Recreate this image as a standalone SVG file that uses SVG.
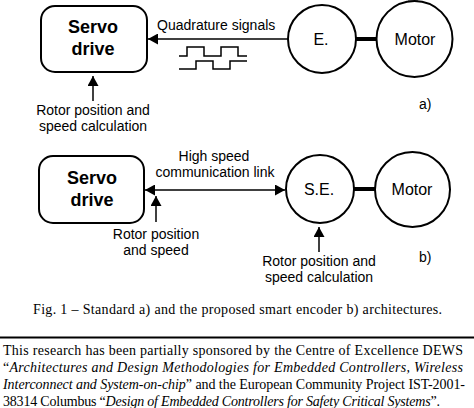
<svg xmlns="http://www.w3.org/2000/svg" width="474" height="408" viewBox="0 0 474 408">
<style>
.box{fill:#fff;stroke:#000;stroke-width:2}
.circ{fill:#fff;stroke:#000;stroke-width:2}
.shaft{stroke:#000;stroke-width:4}
.ln{stroke:#000;stroke-width:1.5;fill:none}
.wave{stroke:#000;stroke-width:1.5;fill:none}
.bold{font-family:"Liberation Sans",Arial,sans-serif;font-weight:bold;font-size:18px;fill:#000;text-anchor:middle}
.lbl{font-family:"Liberation Sans",Arial,sans-serif;font-size:14px;fill:#000}
.node{font-family:"Liberation Sans",Arial,sans-serif;font-size:16px;fill:#000;text-anchor:middle}
.mid{text-anchor:middle}
.serif{font-family:"Liberation Serif","Times New Roman",serif;font-size:14px;fill:#000}
.it{font-style:italic}
</style>
<defs>
<marker id="ah" markerUnits="userSpaceOnUse" markerWidth="11" markerHeight="11" refX="10" refY="5.5" orient="auto-start-reverse" viewBox="0 0 11 11">
<path d="M0,0 L10,5.5 L0,11 Z" fill="#000"/>
</marker>
</defs>

<!-- Part a -->
<g id="servo-a">
<rect class="box" x="41" y="6" width="106" height="66" rx="14"/>
<text class="bold" x="93" y="33">Servo</text>
<text class="bold" x="93" y="55">drive</text>
</g>
<g id="encoder-a">
<circle class="circ" cx="322" cy="39" r="34"/>
<text class="node" x="321" y="45">E.</text>
</g>
<g id="motor-a">
<rect x="408" y="0" width="10" height="3" fill="#888"/>
<circle class="circ" cx="414.5" cy="39" r="38"/>
<text class="node" x="415" y="45">Motor</text>
</g>

<!-- Part b -->
<g id="servo-b">
<rect class="box" x="39" y="156" width="105" height="67" rx="14"/>
<text class="bold" x="92" y="184">Servo</text>
<text class="bold" x="92" y="206">drive</text>
</g>
<g id="encoder-b">
<circle class="circ" cx="320" cy="189" r="34"/>
<text class="node" x="319" y="195">S.E.</text>
</g>
<g id="motor-b">
<circle class="circ" cx="412.5" cy="189.5" r="37.5"/>
<text class="node" x="412" y="195">Motor</text>
</g>

<g id="connectors">
<line class="ln" x1="288" y1="39" x2="148" y2="39" marker-end="url(#ah)"/>
<line class="shaft" x1="356" y1="39" x2="377" y2="39"/>
<line class="ln" x1="93" y1="101" x2="93" y2="76" marker-end="url(#ah)"/>
<path class="wave" d="M179,56 H187 V47 H204 V56 H221 V47 H238 V56 H247"/>
<path class="wave" d="M179,69 H196 V61 H213 V69 H230 V61 H247"/>

<line class="ln" x1="145" y1="190" x2="285" y2="190" marker-start="url(#ah)" marker-end="url(#ah)"/>
<line class="shaft" x1="353" y1="189" x2="375" y2="189"/>
<line class="ln" x1="156" y1="222" x2="156" y2="196" marker-end="url(#ah)"/>
<line class="ln" x1="319" y1="252" x2="319" y2="227" marker-end="url(#ah)"/>
</g>

<g id="labels">
<text class="lbl" x="157" y="30">Quadrature signals</text>
<text class="lbl mid" x="93" y="115">Rotor position and</text>
<text class="lbl mid" x="93" y="131">speed calculation</text>
<text class="lbl" x="419" y="109">a)</text>

<text class="lbl mid" x="214" y="161">High speed</text>
<text class="lbl mid" x="215" y="177">communication link</text>
<text class="lbl mid" x="156" y="239">Rotor position</text>
<text class="lbl mid" x="156" y="255">and speed</text>
<text class="lbl mid" x="319" y="266">Rotor position and</text>
<text class="lbl mid" x="319" y="282">speed calculation</text>
<text class="lbl" x="419" y="262">b)</text>
</g>

<text class="serif" x="33" y="314" font-size="14.8" textLength="409" lengthAdjust="spacing">Fig. 1 – Standard a) and the proposed smart encoder b) architectures.</text>

<line x1="0" y1="337.5" x2="474" y2="337.5" stroke="#000" stroke-width="2"/>

<text class="serif" x="3" y="355" textLength="460" lengthAdjust="spacing">This research has been partially sponsored by the Centre of Excellence DEWS</text>
<text class="serif" x="3" y="372" textLength="460" lengthAdjust="spacing">“<tspan class="it">Architectures and Design Methodologies for Embedded Controllers, Wireless</tspan></text>
<text class="serif" x="3" y="389" textLength="462" lengthAdjust="spacing"><tspan class="it">Interconnect and System-on-chip</tspan>” and the European Community Project IST-2001-</text>
<text class="serif" x="3" y="406" textLength="437" lengthAdjust="spacing">38314 Columbus “<tspan class="it">Design of Embedded Controllers for Safety Critical Systems</tspan>”.</text>
</svg>
